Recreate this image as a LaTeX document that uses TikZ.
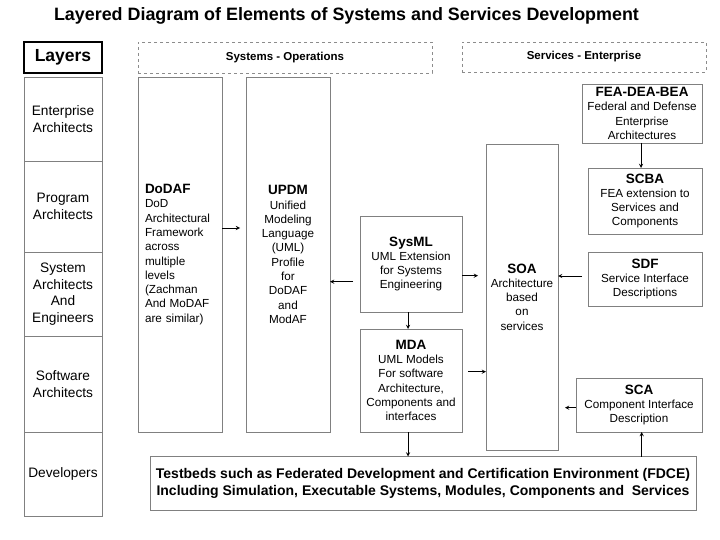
\documentclass[tikz,border=0pt]{standalone}
\usepackage{fontspec}
\setmainfont{Liberation Sans}
\usetikzlibrary{positioning}
\newcommand{\hd}[1]{{\bfseries\fontsize{13.5}{15}\selectfont #1}}

\begin{document}
\begin{tikzpicture}[x=1pt, y=-1pt,
	box/.style={draw=black!50, line width=0.9pt, align=center, inner sep=0pt, outer sep=0pt, font=\fontsize{11.7}{14.3}\selectfont},
	layer/.style={box, minimum width=78pt, font=\fontsize{13.7}{16.7}\selectfont},
	group/.style={draw=black!45, line width=0.9pt, dashed, inner sep=0pt, font=\bfseries\fontsize{11.5}{13}\selectfont},
	arr/.style={-stealth, line width=0.9pt}]

	\useasboundingbox (0,0) rectangle (720,540);

	\node[font=\bfseries\fontsize{17.9}{21}\selectfont] (title) at (346.5,16) {Layered Diagram of Elements of Systems and Services Development};

	%%% Layers %%%

	\node[draw, line width=2pt, minimum width=78pt, minimum height=31pt, inner sep=0pt, font=\bfseries\fontsize{17.5}{20}\selectfont] (layers) at (63,57.5) {Layers};

	\node[layer, minimum height=84pt] (l1) at (63,119) {Enterprise\\Architects};
	\node[layer, minimum height=91pt, below=0pt of l1] (l2) {Program\\Architects};
	\node[layer, minimum height=84pt, below=0pt of l2] (l3) {System\\Architects\\And\\Engineers};
	\node[layer, minimum height=96pt, below=0pt of l3] (l4) {Software\\Architects};
	\node[layer, minimum height=84pt, below=0pt of l4] (l5) {Developers};

	%%% Groups %%%

	\node[group, minimum width=294pt, minimum height=31pt] (ops) at (285,57.5) {Systems - Operations};
	\node[group, minimum width=244pt, minimum height=30pt] (ent) at (584,57) {Services - Enterprise};

	%%% Boxes %%%

	\node[box, minimum width=84pt, minimum height=355pt, text width=70pt, align=left] (dodaf) at (180,254.5) {\hd{DoDAF}\\DoD\\Architectural\\Framework\\across\\multiple\\levels\\(Zachman\\And MoDAF\\are similar)};
	\node[box, minimum width=84pt, minimum height=355pt] (updm) at (288,254.5) {\hd{UPDM}\\Unified\\Modeling\\Language\\(UML)\\Profile\\for\\DoDAF\\and\\ModAF};
	\node[box, minimum width=102pt, minimum height=96pt] (sysml) at (411,264) {\hd{SysML}\\UML Extension\\for Systems\\Engineering};
	\node[box, minimum width=102pt, minimum height=103pt] (mda) at (411,380.5) {\hd{MDA}\\UML Models\\For software\\Architecture,\\Components and\\interfaces};
	\node[box, minimum width=72pt, minimum height=306pt] (soa) at (522,297) {\hd{SOA}\\Architecture\\based\\on\\services};
	\node[box, minimum width=120pt, minimum height=59pt] (fea) at (642,113.5) {\hd{FEA-DEA-BEA}\\Federal and Defense\\Enterprise\\Architectures};
	\node[box, minimum width=114pt, minimum height=66pt] (scba) at (645,201) {\hd{SCBA}\\FEA extension to\\Services and\\Components};
	\node[box, minimum width=114pt, minimum height=54pt] (sdf) at (645,279) {\hd{SDF}\\Service Interface\\Descriptions};
	\node[box, minimum width=126pt, minimum height=54pt] (sca) at (639,405) {\hd{SCA}\\Component Interface\\Description};
	\node[box, minimum width=546pt, minimum height=54pt, font=\bfseries\fontsize{14}{16.7}\selectfont] (test) at (423,483.5) {Testbeds such as Federated Development and Certification Environment (FDCE)\\Including Simulation, Executable Systems, Modules, Components and\ \ Services};

	%%% Arrows %%%

	\draw[arr, shorten >=6pt] ([yshift=26.5pt]dodaf.east) -- ([yshift=26.5pt]dodaf.east -| updm.west);
	\draw[arr, shorten <=7pt] ([yshift=-17.7pt]sysml.west) -- ([yshift=-17.7pt]sysml.west -| updm.east);
	\draw[arr, shorten >=8pt] ([yshift=-11.7pt]sysml.east) -- ([yshift=-11.7pt]sysml.east -| soa.west);
	\draw[arr] ([xshift=-3pt]sysml.south) -- ([xshift=-3pt]sysml.south |- mda.north);
	\draw[arr, shorten <=6pt] ([yshift=8.8pt]mda.east) -- ([yshift=8.8pt]mda.east -| soa.west);
	\draw[arr] ([xshift=-3pt]mda.south) -- ([xshift=-3pt]mda.south |- test.north);
	\draw[arr] ([xshift=-1pt]fea.south) -- ([xshift=-1pt]fea.south |- scba.north);
	\draw[arr, shorten <=6pt] ([yshift=3pt]sdf.west) -- ([yshift=3pt]sdf.west -| soa.east);
	\draw[arr, shorten >=7pt] ([yshift=-2.7pt]sca.west) -- ([yshift=-2.7pt]sca.west -| soa.east);
	\draw[arr] ([xshift=2.7pt]sca.south |- test.north) -- ([xshift=2.7pt]sca.south);

\end{tikzpicture}
\end{document}
